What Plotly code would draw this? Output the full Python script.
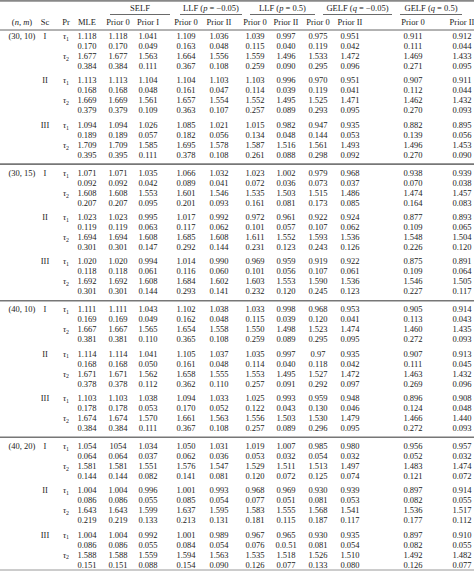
import plotly.graph_objects as go

# table values (each pair: estimate row, MSE row), 11 columns
columns = ["MLE", "Prior 0", "Prior I", "Prior 0", "Prior II", "Prior 0", "Prior II",
           "Prior 0", "Prior II", "Prior 0", "Prior II"]
groups = ["SELF", "LLF (<i>p</i> = −0.05)", "LLF (<i>p</i> = 0.5)",
          "GELF (<i>q</i> = −0.05)", "GELF (<i>q</i> = 0.5)"]
blocks = ["(30, 10)", "(30, 15)", "(40, 10)", "(40, 20)"]
schemes = ["I", "II", "III"]
params = ["<i>τ</i><sub>1</sub>", "<i>τ</i><sub>2</sub>"]

rows_30_10 = [
    "1.118 1.118 1.041 1.109 1.036 1.039 0.997 0.975 0.951 0.911 0.912",
    "0.170 0.170 0.049 0.163 0.048 0.115 0.040 0.119 0.042 0.111 0.044",
    "1.677 1.677 1.563 1.664 1.556 1.559 1.496 1.533 1.472 1.469 1.433",
    "0.384 0.384 0.111 0.367 0.108 0.259 0.090 0.295 0.096 0.271 0.095",
    "1.113 1.113 1.104 1.104 1.103 1.103 0.996 0.970 0.951 0.907 0.911",
    "0.168 0.168 0.048 0.161 0.047 0.114 0.039 0.119 0.041 0.112 0.044",
    "1.669 1.669 1.561 1.657 1.554 1.552 1.495 1.525 1.471 1.462 1.432",
    "0.379 0.379 0.109 0.363 0.107 0.257 0.089 0.293 0.095 0.270 0.093",
    "1.094 1.094 1.026 1.085 1.021 1.015 0.982 0.947 0.935 0.882 0.895",
    "0.189 0.189 0.057 0.182 0.056 0.134 0.048 0.144 0.053 0.139 0.056",
    "1.709 1.709 1.585 1.695 1.578 1.587 1.516 1.561 1.493 1.496 1.453",
    "0.395 0.395 0.111 0.378 0.108 0.261 0.088 0.298 0.092 0.270 0.090",
]
rows_30_15 = [
    "1.071 1.071 1.035 1.066 1.032 1.023 1.002 0.979 0.968 0.938 0.939",
    "0.092 0.092 0.042 0.089 0.041 0.072 0.036 0.073 0.037 0.070 0.038",
    "1.608 1.608 1.553 1.601 1.546 1.535 1.503 1.515 1.486 1.474 1.457",
    "0.207 0.207 0.095 0.201 0.093 0.161 0.081 0.173 0.085 0.164 0.083",
    "1.023 1.023 0.995 1.017 0.992 0.972 0.961 0.922 0.924 0.877 0.893",
    "0.119 0.119 0.063 0.117 0.062 0.101 0.057 0.107 0.062 0.109 0.065",
    "1.694 1.694 1.608 1.685 1.608 1.611 1.552 1.593 1.536 1.548 1.504",
    "0.301 0.301 0.147 0.292 0.144 0.231 0.123 0.243 0.126 0.226 0.120",
    "1.020 1.020 0.994 1.014 0.990 0.969 0.959 0.919 0.922 0.875 0.891",
    "0.118 0.118 0.061 0.116 0.060 0.101 0.056 0.107 0.061 0.109 0.064",
    "1.692 1.692 1.608 1.684 1.602 1.603 1.553 1.590 1.536 1.546 1.505",
    "0.301 0.301 0.144 0.293 0.141 0.232 0.120 0.245 0.123 0.227 0.117",
]
rows_40_10 = [
    "1.111 1.111 1.043 1.102 1.038 1.033 0.998 0.968 0.953 0.905 0.914",
    "0.169 0.169 0.049 0.162 0.048 0.115 0.039 0.120 0.041 0.113 0.043",
    "1.667 1.667 1.565 1.654 1.558 1.550 1.498 1.523 1.474 1.460 1.435",
    "0.381 0.381 0.110 0.365 0.108 0.259 0.089 0.295 0.095 0.272 0.093",
    "1.114 1.114 1.041 1.105 1.037 1.035 0.997 0.97 0.935 0.907 0.913",
    "0.168 0.168 0.050 0.161 0.048 0.114 0.040 0.118 0.042 0.111 0.045",
    "1.671 1.671 1.562 1.658 1.555 1.553 1.495 1.527 1.472 1.463 1.432",
    "0.378 0.378 0.112 0.362 0.110 0.257 0.091 0.292 0.097 0.269 0.096",
    "1.103 1.103 1.038 1.094 1.033 1.025 0.993 0.959 0.948 0.896 0.908",
    "0.178 0.178 0.053 0.170 0.052 0.122 0.043 0.130 0.046 0.124 0.048",
    "1.674 1.674 1.570 1.661 1.563 1.556 1.503 1.530 1.479 1.466 1.440",
    "0.384 0.384 0.111 0.367 0.108 0.257 0.089 0.296 0.095 0.272 0.093",
]
rows_40_20 = [
    "1.054 1054 1.034 1.050 1.031 1.019 1.007 0.985 0.980 0.956 0.957",
    "0.064 0.064 0.037 0.062 0.036 0.053 0.032 0.054 0.032 0.052 0.032",
    "1.581 1.581 1.551 1.576 1.547 1.529 1.511 1.513 1.497 1.483 1.474",
    "0.144 0.144 0.082 0.141 0.081 0.120 0.072 0.125 0.074 0.121 0.072",
    "1.004 1.004 0.996 1.001 0.993 0.968 0.969 0.930 0.939 0.897 0.914",
    "0.086 0.086 0.055 0.085 0.054 0.077 0.051 0.081 0.053 0.082 0.055",
    "1.643 1.643 1.599 1.637 1.595 1.583 1.555 1.568 1.541 1.536 1.517",
    "0.219 0.219 0.133 0.213 0.131 0.181 0.115 0.187 0.117 0.177 0.112",
    "1.004 1.004 0.992 1.001 0.989 0.967 0.965 0.930 0.935 0.897 0.910",
    "0.086 0.086 0.055 0.084 0.054 0.076 0.0.51 0.081 0.054 0.082 0.055",
    "1.588 1.588 1.559 1.594 1.563 1.535 1.518 1.526 1.510 1.492 1.482",
    "0.151 0.151 0.088 0.154 0.090 0.126 0.077 0.133 0.080 0.126 0.077",
]
all_blocks = [rows_30_10, rows_30_15, rows_40_10, rows_40_20]

# layout in pixel units
col_x = [87, 118, 148, 186, 219, 255, 286, 318, 350, 413, 462]
group_span = [(110, 170), (180, 242), (250, 315), (323, 392), (400, 462)]
pitch, sub_gap, block_gap = 10.0, 4.3, 8.0
font = dict(family="Liberation Serif, DejaVu Serif", size=8.5, color="#222")

fig = go.Figure()
y = 37.0
ys, texts = [], []
label_x, label_y, label_t = [], [], []
rule_y = []
for b, rows in enumerate(all_blocks):
    if b > 0:
        rule_y.append(y - (pitch + block_gap) / 2 - 0.5)
    for i, r in enumerate(rows):
        if i % 4 == 0 and i > 0:
            y += sub_gap
        if i == 0:
            label_x.append(22); label_y.append(y); label_t.append(blocks[b])
        if i % 4 == 0:
            label_x.append(45); label_y.append(y); label_t.append(schemes[i // 4])
        if i % 2 == 0:
            label_x.append(66); label_y.append(y); label_t.append(params[(i // 2) % 2])
        ys.append(y)
        texts.append(r.split())
        y += pitch
    y += block_gap

for c in range(len(columns)):
    fig.add_trace(go.Scatter(x=[col_x[c]] * len(ys), y=ys, mode="text",
                             text=[t[c] for t in texts], textfont=font,
                             hoverinfo="skip", showlegend=False))
fig.add_trace(go.Scatter(x=label_x, y=label_y, mode="text", text=label_t,
                         textfont=font, hoverinfo="skip", showlegend=False))
# header
hx = [22, 45, 66] + col_x
ht = ["(<i>n</i>, <i>m</i>)", "Sc", "Pr"] + columns
fig.add_trace(go.Scatter(x=hx, y=[23] * len(hx), mode="text", text=ht, textfont=font,
                         hoverinfo="skip", showlegend=False))
fig.add_trace(go.Scatter(x=[(a + b) / 2 for a, b in group_span], y=[8.5] * 5, mode="text",
                         text=groups, textfont=font, hoverinfo="skip", showlegend=False))

line_col = "#444"
for a, b in group_span:
    fig.add_shape(type="line", x0=a, x1=b, y0=14.5, y1=14.5, line=dict(color=line_col, width=0.8))
fig.add_shape(type="line", x0=0, x1=474, y0=0.8, y1=0.8, line=dict(color="#888", width=2))
fig.add_shape(type="line", x0=0, x1=474, y0=30, y1=30, line=dict(color="#666", width=1))
for ry in rule_y:
    fig.add_shape(type="line", x0=0, x1=474, y0=ry, y1=ry, line=dict(color="#777", width=1.6))
fig.add_shape(type="line", x0=0, x1=474, y0=570, y1=570, line=dict(color="#ccc", width=2))

fig.update_layout(width=474, height=571, margin=dict(l=0, r=0, t=0, b=0),
                  plot_bgcolor="white", paper_bgcolor="white",
                  xaxis=dict(range=[0, 474], visible=False, fixedrange=True),
                  yaxis=dict(range=[571, 0], visible=False, fixedrange=True))
fig.write_html("out.html", config={"displayModeBar": False},
               post_script="document.body.style.margin='0';document.body.style.overflow='hidden';")
